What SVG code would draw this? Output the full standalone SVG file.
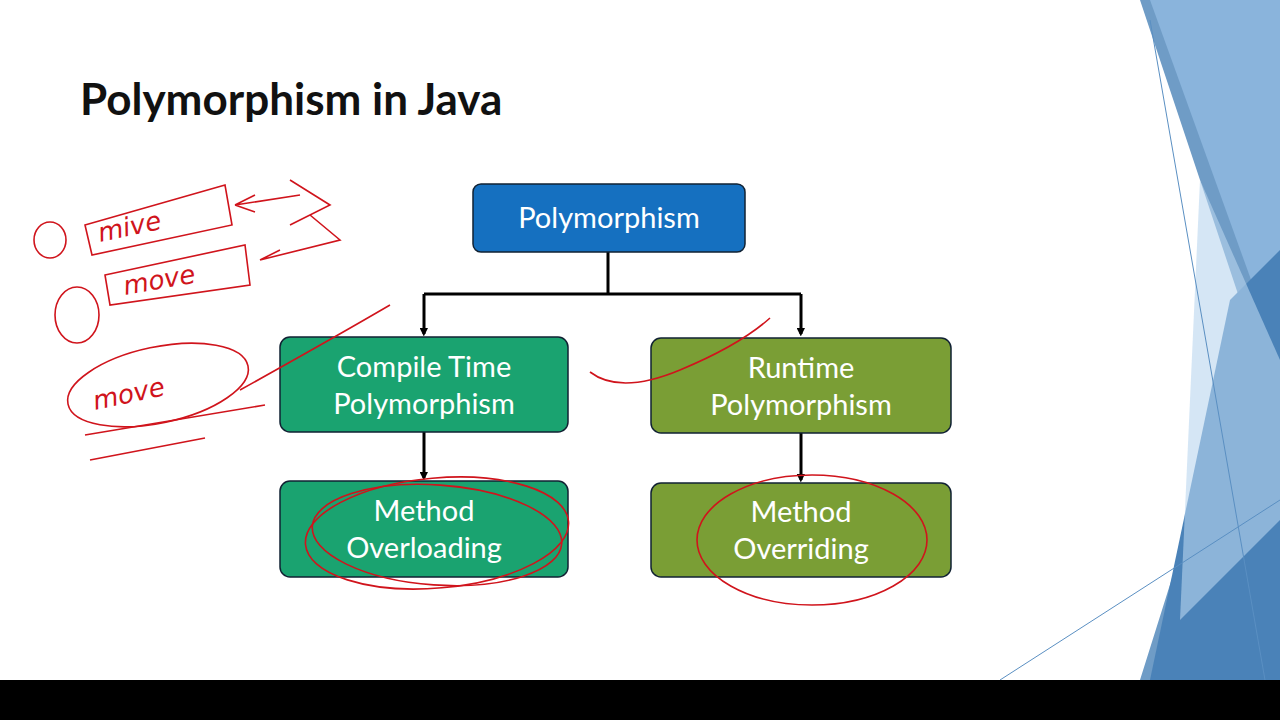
<svg xmlns="http://www.w3.org/2000/svg" width="1280" height="720" viewBox="0 0 1280 720">
<style>
.t{font-family:Lato,"Open Sans",sans-serif;fill:#fff;font-size:29px;text-anchor:middle}
.c{stroke:#000;stroke-width:3;fill:none}
.r{stroke:#d0141c;stroke-width:1.6;fill:none}
.h{font-family:"DejaVu Sans",sans-serif;font-style:italic;fill:#d0141c;font-size:26px}
</style>
<defs><marker id="a" markerWidth="8" markerHeight="8" refX="6" refY="4" orient="auto" markerUnits="userSpaceOnUse"><path d="M0,0 L8,4 L0,8 z" transform="scale(1.4) translate(-2,-1)" fill="#000"/></marker></defs>
<rect width="1280" height="720" fill="#fff"/>
<g id="deco">
<polygon points="1140,0 1280,0 1280,680 1140,680 1250,330" fill="#6f9cc6"/>
<polygon points="1150,0 1280,0 1280,360" fill="#8ab4dc"/>
<polygon points="1230,300 1280,250 1280,680 1150,680" fill="#4a82b8"/>
<polygon points="1200,180 1280,360 1280,520 1180,620" fill="#b9d6ee" opacity="0.6"/>
<line x1="1150" y1="20" x2="1265" y2="680" stroke="#5a8fc2" stroke-width="1"/>
<line x1="1000" y1="680" x2="1280" y2="500" stroke="#5a8fc2" stroke-width="1"/>
</g>
<rect y="680" width="1280" height="40" fill="#000"/>
<text x="80" y="115" font-family="Lato,'Open Sans',sans-serif" font-weight="bold" font-size="44" fill="#111">Polymorphism in Java</text>
<g id="connectors">
<path class="c" d="M608,252 V294 M424,294 H801"/>
<path class="c" d="M424,294 V334" marker-end="url(#a)"/>
<path class="c" d="M801,294 V334" marker-end="url(#a)"/>
<path class="c" d="M424,432 V478" marker-end="url(#a)"/>
<path class="c" d="M801,433 V480" marker-end="url(#a)"/>
</g>
<g id="n1"><rect x="473" y="184" width="272" height="68" rx="8" fill="#1570c0" stroke="#123" stroke-width="1.5"/><text class="t" x="609" y="228">Polymorphism</text></g>
<g id="n2"><rect x="280" y="337" width="288" height="95" rx="10" fill="#1aa370" stroke="#123" stroke-width="1.5"/><text class="t" x="424" y="377">Compile Time</text><text class="t" x="424" y="414">Polymorphism</text></g>
<g id="n3"><rect x="651" y="338" width="300" height="95" rx="10" fill="#7a9e35" stroke="#123" stroke-width="1.5"/><text class="t" x="801" y="378">Runtime</text><text class="t" x="801" y="415">Polymorphism</text></g>
<g id="n4"><rect x="280" y="481" width="288" height="96" rx="10" fill="#1aa370" stroke="#123" stroke-width="1.5"/><text class="t" x="424" y="521">Method</text><text class="t" x="424" y="558">Overloading</text></g>
<g id="n5"><rect x="651" y="483" width="300" height="94" rx="10" fill="#7a9e35" stroke="#123" stroke-width="1.5"/><text class="t" x="801" y="522">Method</text><text class="t" x="801" y="559">Overriding</text></g>
<g id="ink">
<ellipse class="r" cx="437" cy="533" rx="132" ry="55" transform="rotate(-5 437 533)"/>
<ellipse class="r" cx="437" cy="535" rx="125" ry="50" transform="rotate(4 437 535)"/>
<ellipse class="r" cx="812" cy="540" rx="115" ry="65"/>
<path class="r" d="M590,372 Q620,395 680,370 T770,318"/>
<path class="r" d="M240,390 Q330,340 390,305"/>
<ellipse class="r" cx="158" cy="385" rx="92" ry="38" transform="rotate(-12 158 385)"/>
<path class="r" d="M85,435 L265,405 M90,460 L205,438"/>
<polygon class="r" points="85,225 225,185 232,225 92,255"/>
<polygon class="r" points="105,275 245,245 250,285 110,305"/>
<ellipse class="r" cx="50" cy="240" rx="16" ry="18"/>
<ellipse class="r" cx="77" cy="315" rx="22" ry="28"/>
<path class="r" d="M235,205 L300,195 M235,205 L255,195 M235,205 L255,212 M290,180 L330,205 L290,225 M260,260 L340,240 L310,215 M260,260 L280,250"/>
<text class="h" x="100" y="242" transform="rotate(-12 100 242)">mive</text>
<text class="h" x="125" y="295" transform="rotate(-10 125 295)">move</text>
<text class="h" x="95" y="410" font-size="38" transform="rotate(-12 95 410)">move</text>
</g>
</svg>
